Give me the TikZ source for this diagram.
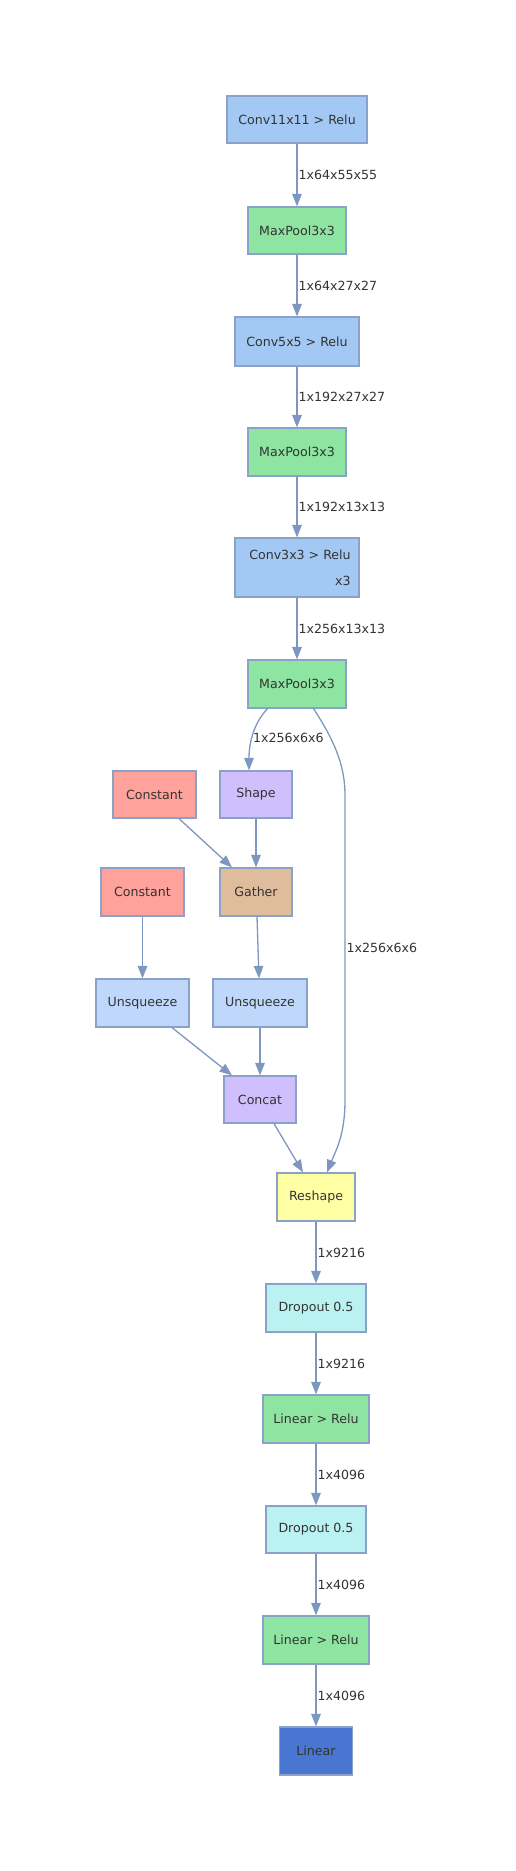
\documentclass[tikz,border=0pt]{standalone}
\usepackage{fontspec}
\setmainfont{DejaVu Sans}
\usetikzlibrary{arrows.meta}
\definecolor{convc}{HTML}{A4C8F4}
\definecolor{poolc}{HTML}{8EE5A1}
\definecolor{constc}{HTML}{FFA29C}
\definecolor{shapec}{HTML}{D1BEFC}
\definecolor{gathc}{HTML}{DFBC9C}
\definecolor{unsqc}{HTML}{BED7FA}
\definecolor{reshc}{HTML}{FFFFA4}
\definecolor{dropc}{HTML}{B9F2F0}
\definecolor{linc}{HTML}{4876D0}
\definecolor{bordc}{HTML}{8AA1C8}
\definecolor{edgec}{HTML}{7E97C0}
\definecolor{txtc}{HTML}{333333}
\begin{document}
\begin{tikzpicture}[x=1pt,y=-1pt,
  box/.style={draw=bordc, line width=1.2pt, minimum height=47pt, inner sep=0pt,
    font=\fontsize{12.6}{15}\selectfont, text=txtc},
  edge/.style={draw=edgec, line width=1.3pt, -{Triangle[length=12.5pt,width=9.5pt]}},
  lbl/.style={font=\fontsize{12.6}{15}\selectfont, text=txtc, inner sep=1pt, anchor=west}]
\useasboundingbox (0,0) rectangle (516,1871);

\node[box, fill=convc, minimum width=140pt] (conv1) at (297,119.5) {Conv11x11 > Relu};
\node[box, fill=poolc, minimum width=98pt] (mp1) at (297,230.5) {MaxPool3x3};
\node[box, fill=convc, minimum width=124pt, minimum height=49pt] (conv2) at (297,341.5) {Conv5x5 > Relu};
\node[box, fill=poolc, minimum width=98pt, minimum height=48pt] (mp2) at (297,452) {MaxPool3x3};
\node[box, fill=convc, minimum width=124pt, minimum height=59pt, align=right] (conv3) at (297,567.5) {\hspace*{6pt}Conv3x3 > Relu\\[11pt]x3};
\node[box, fill=poolc, minimum width=98pt, minimum height=48pt] (mp3) at (297,684) {MaxPool3x3};
\node[box, fill=constc, minimum width=83pt] (const1) at (154.5,794.5) {Constant};
\node[box, fill=shapec, minimum width=72pt] (shape) at (256,794.5) {Shape};
\node[box, fill=constc, minimum width=83pt, minimum height=48pt] (const2) at (142.5,892) {Constant};
\node[box, fill=gathc, minimum width=72pt, minimum height=48pt] (gather) at (256,892) {Gather};
\node[box, fill=unsqc, minimum width=93pt, minimum height=48pt] (unsq1) at (142.5,1003) {Unsqueeze};
\node[box, fill=unsqc, minimum width=94pt, minimum height=48pt] (unsq2) at (260,1003) {Unsqueeze};
\node[box, fill=shapec, minimum width=72pt] (concat) at (260,1099.5) {Concat};
\node[box, fill=reshc, minimum width=78pt, minimum height=48pt] (reshape) at (316,1197) {Reshape};
\node[box, fill=dropc, minimum width=100pt, minimum height=48pt] (drop1) at (316,1308) {Dropout 0.5};
\node[box, fill=poolc, minimum width=106pt, minimum height=48pt] (lin1) at (316,1419) {Linear > Relu};
\node[box, fill=dropc, minimum width=100pt] (drop2) at (316,1529.5) {Dropout 0.5};
\node[box, fill=poolc, minimum width=106pt, minimum height=48pt] (lin2) at (316,1640) {Linear > Relu};
\node[box, fill=linc, minimum width=73pt, minimum height=48pt] (linear) at (316,1751) {Linear};

\draw[edge] (conv1) -- node[lbl]{1x64x55x55} (mp1);
\draw[edge] (mp1) -- node[lbl]{1x64x27x27} (conv2);
\draw[edge] (conv2) -- node[lbl]{1x192x27x27} (mp2);
\draw[edge] (mp2) -- node[lbl]{1x192x13x13} (conv3);
\draw[edge] (conv3) -- node[lbl]{1x256x13x13} (mp3);

\draw[edge] ([xshift=-29.5pt]mp3.south) .. controls (254,723) and (249,742) .. ([xshift=-7pt]shape.north);
\node[lbl] (l6) at (252,738) {1x256x6x6};
\draw[edge] ([xshift=16.5pt]mp3.south) .. controls (334,740) and (345,765) .. (345,795)
  -- node[lbl, pos=0.5, xshift=0pt]{1x256x6x6} (345,1100)
  .. controls (345,1135) and (336,1150) .. ([xshift=11pt]reshape.north);

\draw[edge] ([xshift=24.5pt]const1.south) -- ([xshift=-24pt]gather.north);
\draw[edge] (shape) -- (gather);
\draw[edge] ([xshift=1pt]gather.south) -- ([xshift=-1pt]unsq2.north);
\draw[edge] (const2) -- (unsq1);
\draw[edge] ([xshift=29.5pt]unsq1.south) -- ([xshift=-28pt]concat.north);
\draw[edge] (unsq2) -- (concat);
\draw[edge] ([xshift=14pt]concat.south) -- ([xshift=-13pt]reshape.north);

\draw[edge] (reshape) -- node[lbl]{1x9216} (drop1);
\draw[edge] (drop1) -- node[lbl]{1x9216} (lin1);
\draw[edge] (lin1) -- node[lbl]{1x4096} (drop2);
\draw[edge] (drop2) -- node[lbl]{1x4096} (lin2);
\draw[edge] (lin2) -- node[lbl]{1x4096} (linear);
\end{tikzpicture}
\end{document}
